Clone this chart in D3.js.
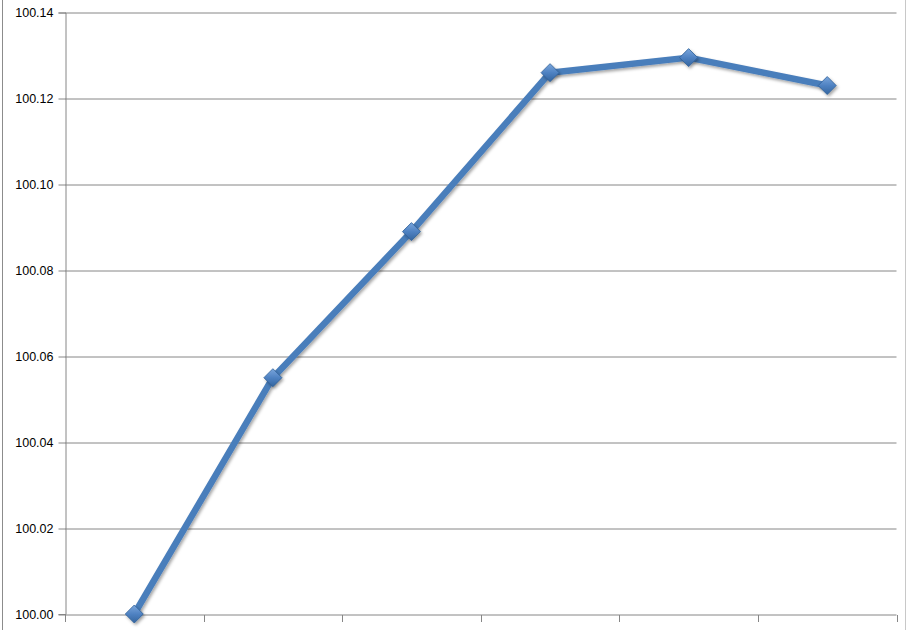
<!DOCTYPE html>
<html>
<head>
<meta charset="utf-8">
<script src="https://cdn.jsdelivr.net/npm/d3@7"></script>
<style>
  body { margin: 0; background: #fff; }
  svg { display: block; }
  .tick text { font-family: "Liberation Sans", Arial, sans-serif; font-size: 12.5px; fill: #000; }
</style>
</head>
<body>
<div id="chart"></div>
<script>
// data
var categories = ["1", "2", "3", "4", "5", "6"]
var values = [100.000, 100.055, 100.089, 100.126, 100.1295, 100.123]
var yTicks = [100.00, 100.02, 100.04, 100.06, 100.08, 100.10, 100.12, 100.14]

var W = 913, H = 630
var margin = { top: 12.5, right: 16.5, bottom: 16, left: 65 }
var width = W - margin.left - margin.right
var height = H - margin.top - margin.bottom

var svg = d3.select("#chart").append("svg")
    .attr("width", W)
    .attr("height", H)

// gradient + shadow for the markers
var defs = svg.append("defs")
var grad = defs.append("linearGradient")
    .attr("id", "mk").attr("x1", 0).attr("y1", 0).attr("x2", 0).attr("y2", 1)
grad.append("stop").attr("offset", "0%").attr("stop-color", "#7aa6dc")
grad.append("stop").attr("offset", "50%").attr("stop-color", "#4f82c2")
grad.append("stop").attr("offset", "100%").attr("stop-color", "#34659f")
var sh = defs.append("filter").attr("id", "sh")
    .attr("x", "-50%").attr("y", "-50%").attr("width", "200%").attr("height", "200%")
sh.append("feDropShadow").attr("dx", 1.5).attr("dy", 2).attr("stdDeviation", 1.5)
    .attr("flood-color", "#000").attr("flood-opacity", 0.35)

// outer border of the chart area
svg.append("line").attr("x1", 2.5).attr("x2", 2.5).attr("y1", 0).attr("y2", H)
    .attr("stroke", "#8c8c8c")
svg.append("line").attr("x1", 905.5).attr("x2", 905.5).attr("y1", 0).attr("y2", H)
    .attr("stroke", "#c8c8c8")

var canvas = svg.append("g")
    .attr("transform", "translate(" + margin.left + "," + margin.top + ")")

var x = d3.scaleBand().domain(categories).range([0, width])
var y = d3.scaleLinear().domain([100.00, 100.14]).range([height, 0])

// gridlines
canvas.selectAll(".grid").data(yTicks.slice(1)).enter()
    .append("line")
    .attr("class", "grid")
    .attr("x1", 0).attr("x2", width)
    .attr("y1", function(d) { return Math.round(y(d)) + 0.5 })
    .attr("y2", function(d) { return Math.round(y(d)) + 0.5 })
    .attr("stroke", "#868686")

// y axis
var yAxis = canvas.append("g")
    .attr("class", "yaxis")
    .attr("transform", "translate(0.5,0)")
    .call(d3.axisLeft(y).tickValues(yTicks).tickFormat(d3.format(".2f")).tickSize(7).tickPadding(5))
yAxis.selectAll("line, path").attr("stroke", "#868686")
yAxis.selectAll(".tick").attr("transform", function(d) { return "translate(0," + (Math.round(y(d)) + 0.5) + ")" })

// x axis: ticks on the category boundaries, no labels visible
var bounds = categories.map(function(c) { return x(c) }).concat([width])
var xAxis = canvas.append("g")
    .attr("class", "xaxis")
    .attr("transform", "translate(0," + (Math.round(height) + 0.5) + ")")
xAxis.append("line").attr("x1", 0).attr("x2", width).attr("stroke", "#868686")
xAxis.selectAll(".xt").data(bounds).enter()
    .append("line")
    .attr("class", "xt")
    .attr("x1", function(d) { return Math.round(d) + 0.5 })
    .attr("x2", function(d) { return Math.round(d) + 0.5 })
    .attr("y1", 0).attr("y2", 7)
    .attr("stroke", "#868686")

var cx = function(d, i) { return x(categories[i]) + x.bandwidth() / 2 }

var line = d3.line()
    .x(cx)
    .y(function(d) { return y(d) })

canvas.append("path")
    .datum(values)
    .attr("class", "line")
    .attr("d", line)
    .attr("fill", "none")
    .attr("stroke", "#4a7ebb")
    .attr("stroke-width", 6.5)
    .attr("stroke-linejoin", "round")
    .attr("filter", "url(#sh)")

canvas.selectAll(".dot").data(values).enter()
    .append("path")
    .attr("class", "dot")
    .attr("transform", function(d, i) { return "translate(" + cx(d, i) + "," + y(d) + ")" })
    .attr("d", "M0,-9L9,0L0,9L-9,0Z")
    .attr("fill", "url(#mk)")
    .attr("stroke", "#2f5f98")
    .attr("stroke-width", 0.8)
    .attr("filter", "url(#sh)")
</script>
</body>
</html>
